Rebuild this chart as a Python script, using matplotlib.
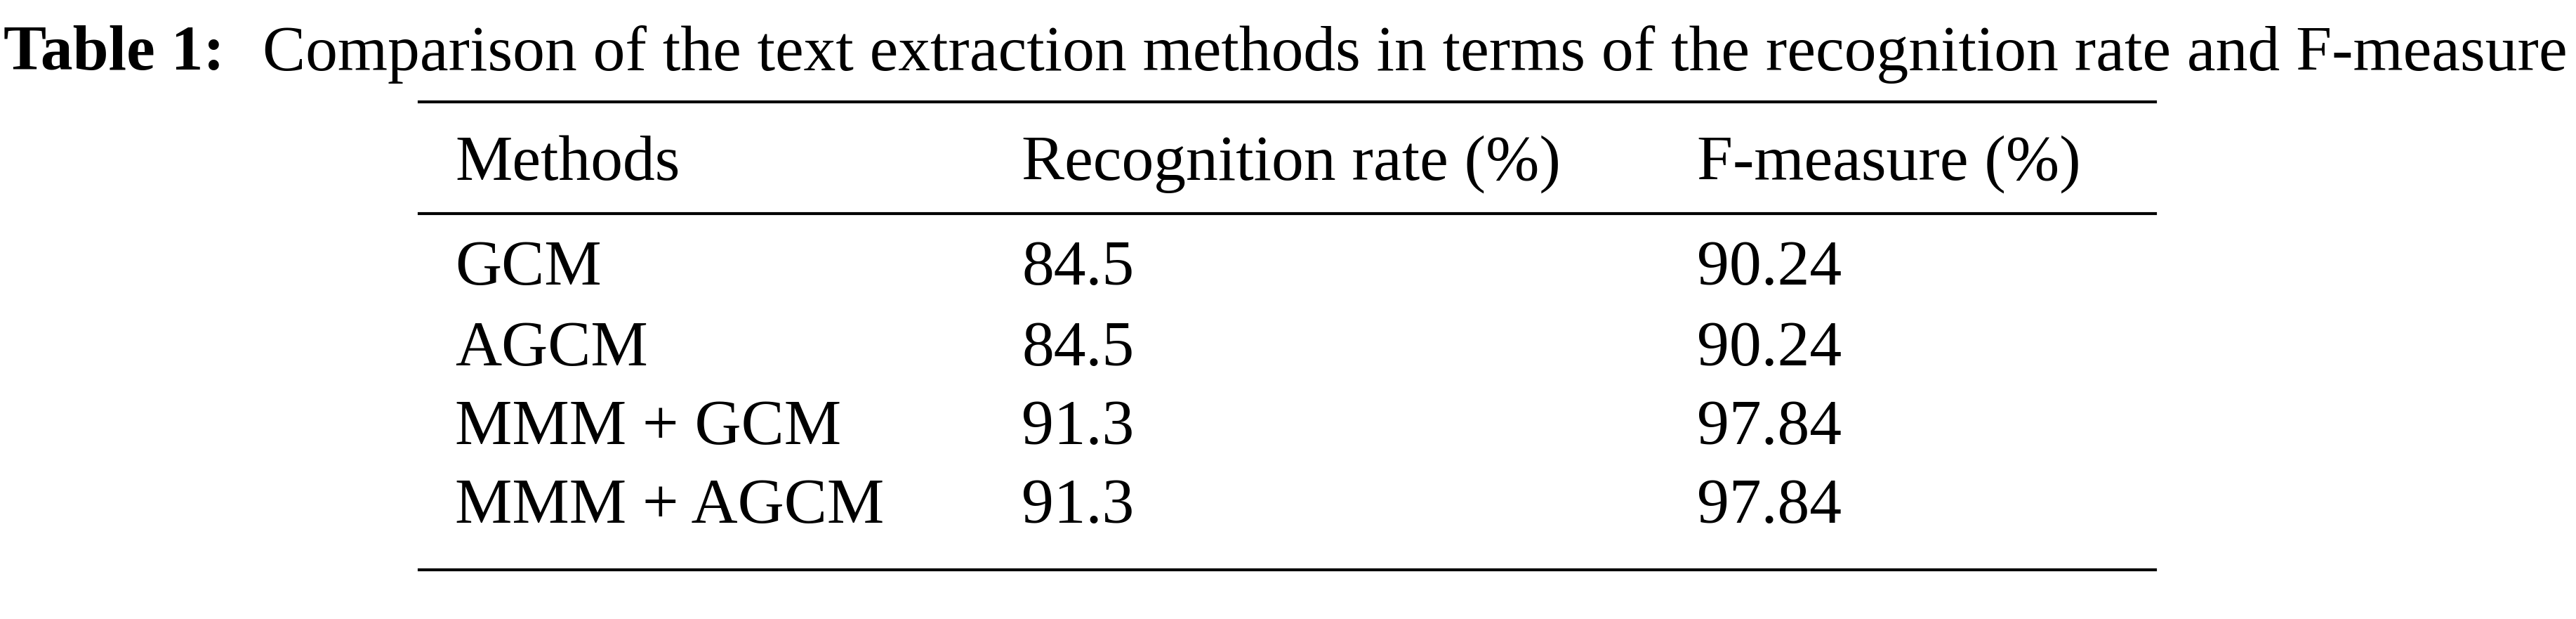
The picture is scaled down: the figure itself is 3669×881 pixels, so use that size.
import matplotlib.pyplot as plt

# Table content
title_bold = "Table 1:"
title_text = "Comparison of the text extraction methods in terms of the recognition rate and F-measure"
headers = ["Methods", "Recognition rate (%)", "F-measure (%)"]
methods = ["GCM", "AGCM", "MMM + GCM", "MMM + AGCM"]
recognition_rate = ["84.5", "84.5", "91.3", "91.3"]
f_measure = ["90.24", "90.24", "97.84", "97.84"]

W, H = 1568, 377  # reference layout units


def fx(x):
    return x / W


def fy(y):
    return 1 - y / H


plt.rcParams['font.family'] = ['Liberation Serif', 'DejaVu Serif']
fig = plt.figure(figsize=(36.69, 8.81), dpi=100)
fs = 66

fig.text(fx(2), fy(33), title_bold, fontsize=fs, fontweight='bold', va='center')
fig.text(fx(160), fy(33), title_text, fontsize=fs, va='center')

col_x = [277, 622, 1033]
for x, h in zip(col_x, headers):
    fig.text(fx(x), fy(100), h, fontsize=fs, va='center')

row_y = [164, 213, 261, 309]
for y, m, r, f in zip(row_y, methods, recognition_rate, f_measure):
    for x, v in zip(col_x, (m, r, f)):
        fig.text(fx(x), fy(y), v, fontsize=fs, va='center')

for y in (62, 130, 347):
    fig.add_artist(plt.Line2D([fx(255), fx(1312)], [fy(y), fy(y)], color='black', lw=3))

fig.savefig("out.png", dpi=100)
